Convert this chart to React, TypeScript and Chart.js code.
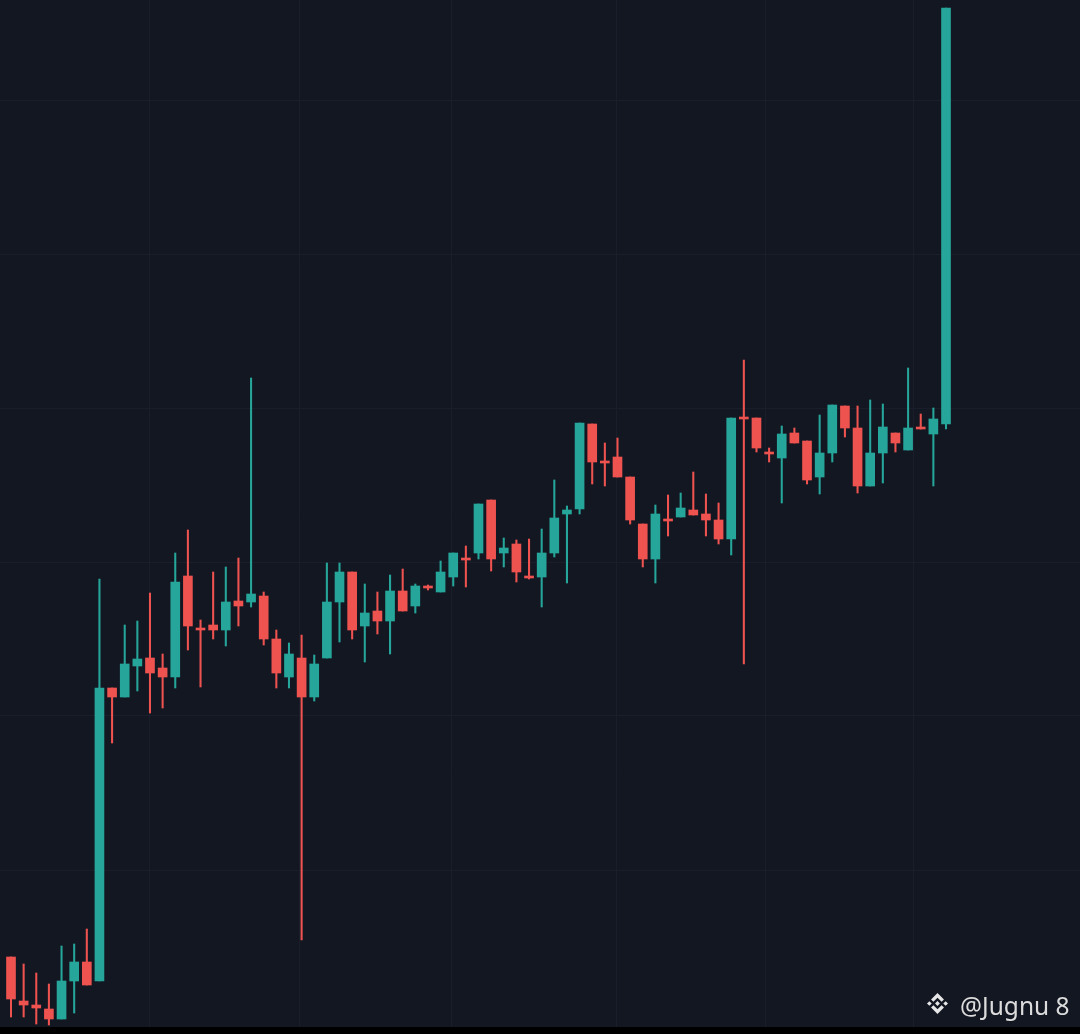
import React, { useEffect, useRef } from "react";
import { Chart, registerables } from "chart.js";

Chart.register(...registerables);

// Candles: open, high, low, close (price units; no axis labels in the source)
const opens = [
  7.0, 2.6, 2.2, 1.8, 0.8, 4.6, 6.5, 4.6, 33.9, 33.0,
  36.1, 36.9, 35.9, 35.0, 45.1, 39.9, 40.2, 39.7, 42.6, 42.5,
  43.1, 38.8, 35.0, 36.9, 33.0, 36.9, 42.5, 45.5, 40.1, 41.6,
  40.6, 43.6, 42.1, 44.1, 43.5, 45.0, 46.9, 47.4, 52.7, 47.4,
  48.3, 45.1, 45.0, 47.4, 51.3, 51.8, 60.3, 56.6, 57.0, 55.0,
  50.3, 46.8, 50.8, 51.0, 51.7, 51.3, 50.7, 48.8, 61.0, 60.9,
  57.5, 56.9, 59.4, 58.6, 55.0, 57.4, 62.1, 59.9, 54.1, 57.4,
  59.4, 57.7, 60.0, 59.3, 60.3,
];
const highs = [
  7.0, 6.3, 5.4, 4.3, 8.1, 8.3, 9.8, 44.8, 33.9, 40.2,
  40.6, 43.4, 37.3, 47.4, 49.7, 40.7, 45.5, 46.0, 46.9, 64.9,
  43.5, 39.7, 38.4, 39.2, 37.2, 46.4, 46.4, 45.5, 44.3, 43.5,
  45.2, 45.8, 44.3, 44.2, 46.6, 47.4, 48.1, 52.3, 52.7, 48.9,
  48.7, 48.8, 49.8, 54.7, 52.1, 60.4, 60.3, 58.4, 58.9, 55.0,
  50.3, 52.2, 53.2, 53.4, 55.5, 53.3, 52.4, 60.9, 66.7, 60.9,
  57.9, 60.1, 59.9, 58.6, 61.2, 62.2, 62.1, 62.1, 62.7, 62.3,
  59.4, 65.9, 61.3, 61.9, 101.9,
];
const lows = [
  1.0, 1.0, 0.3, 0.2, 0.8, 1.4, 4.2, 4.6, 28.4, 33.0,
  33.6, 31.4, 31.9, 33.9, 37.7, 34.0, 38.8, 38.1, 40.1, 42.0,
  38.2, 33.9, 33.9, 8.7, 32.6, 36.9, 38.5, 38.8, 36.5, 39.3,
  37.3, 41.6, 41.4, 43.7, 43.5, 44.1, 44.0, 46.8, 45.6, 46.0,
  44.5, 44.8, 42.0, 47.0, 44.4, 51.3, 54.3, 54.1, 55.0, 50.3,
  46.0, 44.4, 49.1, 51.0, 51.2, 49.1, 48.3, 47.2, 36.3, 57.5,
  56.5, 52.4, 58.4, 54.3, 53.3, 56.5, 59.0, 53.4, 54.1, 54.4,
  57.5, 57.7, 59.8, 54.1, 59.8,
];
const closes = [
  2.8, 2.2, 1.9, 0.8, 4.6, 6.5, 4.2, 33.9, 33.0, 36.3,
  36.8, 35.4, 35.0, 44.5, 40.1, 39.7, 39.7, 42.5, 42.1, 43.3,
  38.8, 35.4, 37.3, 33.0, 36.3, 42.5, 45.5, 39.7, 41.4, 40.6,
  43.6, 41.6, 44.1, 43.9, 45.5, 47.4, 46.7, 52.3, 46.8, 47.9,
  45.5, 44.9, 47.4, 50.9, 51.7, 60.4, 56.5, 56.4, 55.0, 50.7,
  46.8, 51.3, 50.6, 51.9, 51.2, 50.7, 48.8, 60.9, 60.8, 57.9,
  57.3, 59.3, 58.4, 54.7, 57.4, 62.2, 59.9, 54.1, 57.4, 60.0,
  58.4, 59.9, 59.8, 60.8, 101.9,
];

// Faint grid positions (candle-index units on x, price units on y)
const gridColumns = [11.0, 22.87, 34.9, 47.96, 59.68, 71.39];
const gridRows = [15.7, 31.1, 46.5, 61.9, 77.3, 92.7];

const UP = "#26a69a";
const DOWN = "#ef5350";
const BG = "#131722";
const GRID = "#1a1e2a";

export default function App() {
  const canvasRef = useRef<HTMLCanvasElement | null>(null);

  useEffect(() => {
    if (!canvasRef.current) return;
    const colors = opens.map((o, i) => (closes[i] >= o ? UP : DOWN));
    const chart = new Chart(canvasRef.current, {
      type: "bar",
      data: {
        datasets: [
          {
            label: "wick",
            data: opens.map((_, i) => ({ x: i, y: [lows[i], highs[i]] })) as any,
            backgroundColor: colors,
            barThickness: 1.4,
            grouped: false,
            borderWidth: 0,
            order: 2,
          } as any,
          {
            label: "body",
            data: opens.map((o, i) => ({ x: i, y: [o, closes[i]] })) as any,
            backgroundColor: colors,
            barThickness: 9,
            grouped: false,
            borderWidth: 0,
            minBarLength: 2,
            order: 1,
          } as any,
        ],
      },
      options: {
        animation: false,
        responsive: true,
        maintainAspectRatio: false,
        layout: { padding: 0 },
        plugins: {
          legend: { display: false },
          tooltip: { enabled: false },
        },
        scales: {
          x: {
            type: "linear",
            min: -0.8706,
            max: 84.605,
            offset: false,
            grid: { color: GRID, lineWidth: 1, drawTicks: false, offset: false },
            border: { display: false },
            ticks: { display: false },
            afterBuildTicks: (scale: any) => {
              scale.ticks = gridColumns.map((v) => ({ value: v }));
            },
          },
          y: {
            type: "linear",
            min: 0,
            max: 102.7,
            grid: { color: GRID, lineWidth: 1, drawTicks: false },
            border: { display: false },
            ticks: { display: false },
            afterBuildTicks: (scale: any) => {
              scale.ticks = gridRows.map((v) => ({ value: v }));
            },
          },
        },
      } as any,
    });
    return () => chart.destroy();
  }, []);

  return (
    <div
      style={{
        position: "fixed",
        left: 0,
        top: 0,
        width: 1080,
        height: 1034,
        background: "#000",
        overflow: "hidden",
      }}
    >
      <div style={{ position: "absolute", left: 0, top: 0, width: 1080, height: 1027, background: BG }}>
        <canvas ref={canvasRef} />
      </div>
      <svg
        width="21"
        height="21"
        viewBox="0 0 126.61 126.61"
        style={{ position: "absolute", left: 926.5, top: 992.5 }}
      >
        <path
          fill="#e6e6e6"
          d="M38.73,53.2l24.59-24.58,24.6,24.6,14.3-14.31L63.32,0,24.43,38.9l14.3,14.3ZM0,63.31l14.3-14.31,14.31,14.31-14.31,14.3ZM38.73,73.41l24.59,24.59,24.6-24.6,14.31,14.29h0L63.32,126.61,24.43,87.73l-.02-.02,14.32-14.3ZM98,63.31l14.3-14.31,14.31,14.3-14.31,14.32ZM77.83,63.3L63.32,48.78,52.59,59.51l-1.24,1.23-2.54,2.54-.02,.02,.02,.03,14.51,14.5,14.51-14.52Z"
        />
      </svg>
      <span
        style={{
          position: "absolute",
          left: 960,
          top: 994,
          color: "#dcdcdc",
          fontFamily: "'Noto Sans', 'Open Sans', sans-serif",
          fontSize: 24.5,
          lineHeight: "24.5px",
          whiteSpace: "nowrap",
        }}
      >
        @Jugnu 8
      </span>
    </div>
  );
}
